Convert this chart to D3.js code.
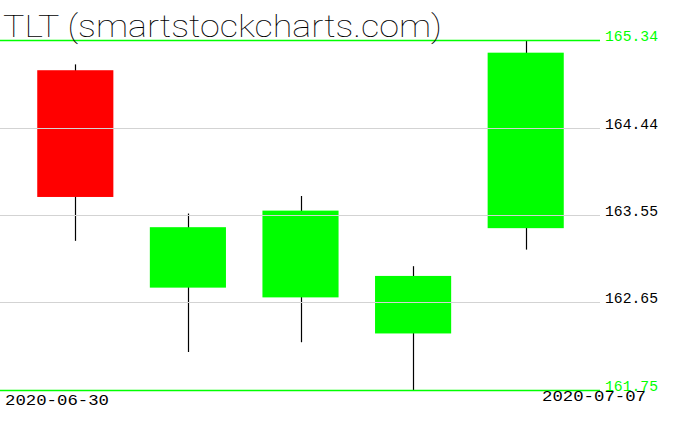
<!DOCTYPE html>
<html>
<head>
<meta charset="utf-8">
<script src="https://cdn.jsdelivr.net/npm/d3@7"></script>
<style>
  body { margin: 0; background: #fff; }
  svg { display: block; }
</style>
</head>
<body>
<div id="chart"></div>
<script>
// TLT daily candles
var dates = ["2020-06-30", "2020-07-01", "2020-07-02", "2020-07-06", "2020-07-07"]
var opens = [165.03, 162.80, 162.70, 162.33, 163.41]
var highs = [165.09, 163.56, 163.74, 163.02, 165.34]
var lows = [163.28, 162.14, 162.24, 161.75, 163.19]
var closes = [163.73, 163.42, 163.59, 162.92, 165.21]
var yTicks = [161.75, 162.65, 163.55, 164.44, 165.34]

var data = dates.map(function(d, i) {
    return { date: d, open: opens[i], high: highs[i], low: lows[i], close: closes[i] }
})

const width = 676
const height = 431
const plotRight = 600

var svg = d3.select("#chart")
    .append("svg")
        .attr("width", width)
        .attr("height", height)

var x = d3.scaleBand()
    .domain(dates)
    .range([19, 582])
    .paddingInner(0.324)
    .paddingOuter(0.162)

var y = d3.scaleLinear()
    .domain([yTicks[0], yTicks[yTicks.length - 1]])
    .range([390, 40])

// candles
var candle = svg.append("g")
    .selectAll("g")
    .data(data)
    .join("g")

candle.append("line")
    .attr("x1", function(d) { return Math.round(x(d.date) + x.bandwidth() / 2) + 0.5 })
    .attr("x2", function(d) { return Math.round(x(d.date) + x.bandwidth() / 2) + 0.5 })
    .attr("y1", function(d) { return y(d.high) })
    .attr("y2", function(d) { return y(d.low) })
    .attr("stroke", "#000")
    .attr("stroke-width", 1.2)

candle.append("rect")
    .attr("x", function(d) { return x(d.date) })
    .attr("y", function(d) { return y(Math.max(d.open, d.close)) })
    .attr("width", x.bandwidth())
    .attr("height", function(d) { return Math.abs(y(d.open) - y(d.close)) })
    .attr("fill", function(d) { return d.close >= d.open ? "#00ff00" : "#ff0000" })

// grid + price labels (drawn over candles)
var last = yTicks.length - 1
svg.append("g")
    .selectAll("line")
    .data(yTicks)
    .join("line")
        .attr("x1", 0)
        .attr("x2", plotRight)
        .attr("y1", function(d) { return Math.round(y(d)) + 0.5 })
        .attr("y2", function(d) { return Math.round(y(d)) + 0.5 })
        .attr("stroke", function(d, i) { return (i == 0 || i == last) ? "#00ff00" : "#d3d3d3" })
        .attr("stroke-width", function(d, i) { return (i == 0 || i == last) ? 1.5 : 1 })

svg.append("g")
    .selectAll("text")
    .data(yTicks)
    .join("text")
        .attr("x", 605)
        .attr("y", function(d) { return y(d) + 1 })
        .attr("textLength", 53)
        .attr("lengthAdjust", "spacingAndGlyphs")
        .style("font-family", "'Liberation Mono', 'DejaVu Sans Mono', monospace")
        .style("font-size", "15px")
        .style("fill", function(d, i) { return (i == 0 || i == last) ? "#00ff00" : "#000" })
        .text(function(d) { return d.toFixed(2) })

// first / last dates
svg.append("text")
    .attr("x", 5)
    .attr("y", 405)
    .attr("textLength", 104)
    .attr("lengthAdjust", "spacingAndGlyphs")
    .style("font-family", "'Liberation Mono', 'DejaVu Sans Mono', monospace")
    .style("font-size", "15px")
    .text(dates[0])

svg.append("text")
    .attr("x", 542)
    .attr("y", 401)
    .attr("textLength", 104)
    .attr("lengthAdjust", "spacingAndGlyphs")
    .style("font-family", "'Liberation Mono', 'DejaVu Sans Mono', monospace")
    .style("font-size", "15px")
    .text(dates[dates.length - 1])

// title
svg.append("text")
    .attr("x", 3)
    .attr("y", 37)
    .attr("textLength", 439)
    .attr("lengthAdjust", "spacingAndGlyphs")
    .style("font-family", "Roboto, Lato, 'DejaVu Sans'")
    .style("font-weight", "100")
    .style("font-size", "32px")
    .style("fill", "#000")
    .text("TLT (smartstockcharts.com)")
</script>
</body>
</html>
